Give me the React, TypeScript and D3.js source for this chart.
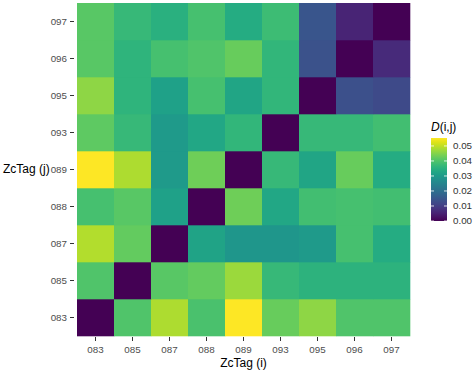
import React from "react";
import * as d3 from "d3";

// ZcTag identifiers (same order on both axes)
const tags = ["083", "085", "087", "088", "089", "093", "095", "096", "097"];

// D(i,j): one array per row j, values listed by column i
const rowJ083 = [0, 0.04, 0.0485, 0.0395, 0.0553, 0.0425, 0.046, 0.04, 0.04];
const rowJ085 = [0.04, 0, 0.041, 0.042, 0.047, 0.037, 0.0355, 0.0355, 0.0355];
const rowJ087 = [0.049, 0.042, 0, 0.032, 0.029, 0.029, 0.03, 0.039, 0.034];
const rowJ088 = [0.039, 0.041, 0.0315, 0, 0.043, 0.033, 0.0385, 0.039, 0.0385];
const rowJ089 = [0.0553, 0.0485, 0.03, 0.043, 0, 0.037, 0.0325, 0.0425, 0.034];
const rowJ093 = [0.0415, 0.037, 0.03, 0.033, 0.0365, 0, 0.037, 0.037, 0.0385];
const rowJ095 = [0.046, 0.036, 0.0315, 0.039, 0.0325, 0.0365, 0, 0.0135, 0.0125];
const rowJ096 = [0.041, 0.036, 0.039, 0.04, 0.0425, 0.0365, 0.014, 0, 0.0065];
const rowJ097 = [0.041, 0.037, 0.035, 0.039, 0.034, 0.038, 0.0145, 0.0055, 0];

const rows = [rowJ083, rowJ085, rowJ087, rowJ088, rowJ089, rowJ093, rowJ095, rowJ096, rowJ097];

const legendBreaks = [0, 0.01, 0.02, 0.03, 0.04, 0.05];

const W = 474;
const H = 371;
const font = "'Liberation Sans', Arial, Helvetica, sans-serif";

export default function App() {
  const cells = rows.flatMap((vals, j) =>
    vals.map((v, i) => ({ i: tags[i], j: tags[j], v }))
  );
  const maxV = d3.max(cells, (d) => d.v) as number;

  const x = d3.scaleBand().domain(tags).range([77, 410]);
  const y = d3.scaleBand().domain(tags).range([336, 3]);
  const color = d3.scaleSequential(d3.interpolateViridis).domain([0, maxV]);

  // colour bar
  const barX = 431;
  const barW = 16;
  const barY = d3.scaleLinear().domain([0, maxV]).range([221, 138]);
  const stops = d3.range(0, 1.0001, 0.05);

  return (
    <svg
      width={W}
      height={H}
      style={{ position: "absolute", left: 0, top: 0, background: "#fff" }}
      fontFamily={font}
    >
      <defs>
        <linearGradient id="vir" x1="0" y1="1" x2="0" y2="0">
          {stops.map((s) => (
            <stop key={s} offset={s} stopColor={color(s * maxV)} />
          ))}
        </linearGradient>
      </defs>

      {cells.map((d) => (
        <rect
          key={d.i + "-" + d.j}
          x={x(d.i)}
          y={y(d.j)}
          width={x.bandwidth() + 0.3}
          height={y.bandwidth() + 0.3}
          fill={color(d.v)}
        />
      ))}

      {/* x axis */}
      {tags.map((t) => {
        const cx = (x(t) as number) + x.bandwidth() / 2;
        return (
          <g key={"x" + t}>
            <line x1={cx} x2={cx} y1={337} y2={341} stroke="#333" strokeWidth={1} />
            <text x={cx} y={353} textAnchor="middle" fontSize={9.8} fill="#4D4D4D">
              {t}
            </text>
          </g>
        );
      })}
      <text x={243.5} y={367} textAnchor="middle" fontSize={12} fill="#000">
        ZcTag (i)
      </text>

      {/* y axis */}
      {tags.map((t) => {
        const cy = (y(t) as number) + y.bandwidth() / 2;
        return (
          <g key={"y" + t}>
            <line x1={70} x2={74} y1={cy} y2={cy} stroke="#333" strokeWidth={1} />
            <text x={67} y={cy + 3.4} textAnchor="end" fontSize={9.8} fill="#4D4D4D">
              {t}
            </text>
          </g>
        );
      })}
      <text x={3} y={173} fontSize={12} fill="#000">
        ZcTag (j)
      </text>

      {/* legend */}
      <text x={431} y={131} fontSize={12} fill="#000">
        <tspan fontStyle="italic">D</tspan>
        <tspan>(i,j)</tspan>
      </text>
      <rect x={barX} y={barY(maxV)} width={barW} height={barY(0) - barY(maxV)} fill="url(#vir)" />
      {legendBreaks.map((b) => (
        <g key={"l" + b}>
          <line x1={barX} x2={barX + 3} y1={barY(b)} y2={barY(b)} stroke="#fff" strokeWidth={0.8} />
          <line x1={barX + barW - 3} x2={barX + barW} y1={barY(b)} y2={barY(b)} stroke="#fff" strokeWidth={0.8} />
          <text x={453} y={barY(b) + 3.4} fontSize={9.8} fill="#333">
            {b.toFixed(2)}
          </text>
        </g>
      ))}
    </svg>
  );
}
